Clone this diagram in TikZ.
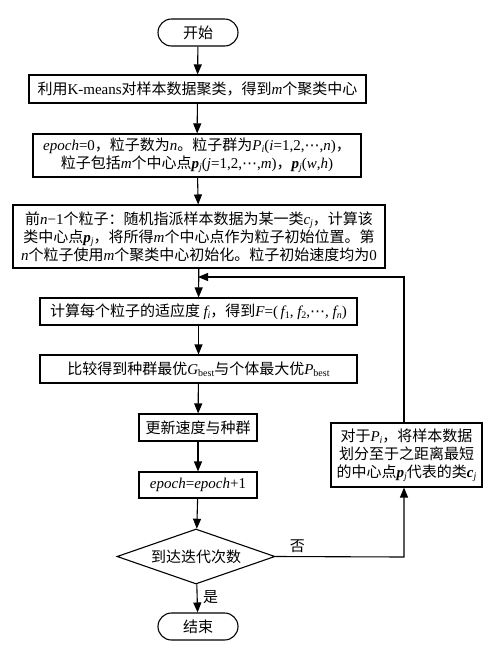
\documentclass[tikz,border=0pt]{standalone}
\usepackage{fontspec}
\setmainfont{Noto Sans CJK SC}
\newfontfamily\lt{Liberation Serif}
\newfontfamily\dv{DejaVu Sans}
\usetikzlibrary{shapes.geometric,arrows.meta}
\newcommand\vi[1]{{\lt\itshape #1}}
\newcommand\vb[1]{{\lt\bfseries\itshape #1}}
\newcommand\lr[1]{{\lt #1}}
\newcommand\cdt{{\dv ⋯}}
\newcommand\sbx[1]{\raisebox{-0.3ex}{\fontsize{10}{10}\selectfont #1}}
\tikzset{
  base/.style={draw, line width=1.1pt, inner sep=2pt, align=center,
    font=\fontsize{15}{18}\selectfont},
  procbox/.style={base, rectangle},
  termbox/.style={base, rectangle, rounded corners=13.5pt, minimum width=80pt, minimum height=27pt},
  decbox/.style={base, diamond, aspect=2.87, inner sep=0pt, minimum width=158pt, minimum height=55pt},
  flow/.style={line width=1.1pt, -{Triangle[length=10pt,width=8pt]}},
  lab/.style={font=\fontsize{15}{18}\selectfont}
}
\begin{document}
\begin{tikzpicture}[x=1pt,y=-1pt]
\useasboundingbox (0,0) rectangle (490,654);
\node[termbox] (start) at (198,32.5) {开始};
\node[procbox, minimum width=337pt, minimum height=28pt] (b1) at (197.5,89)
  {利用\lr{K-means}对样本数据聚类，得到\vi{m}个聚类中心};
\node[procbox, minimum width=328pt, minimum height=43pt] (b2) at (197,155.5)
  {\vi{epoch}\lr{=0}，粒子数为\vi{n}。粒子群为\vi{P}\sbx{\vi{i}}\lr{(}\vi{i}\lr{=1,2,}\cdt\lr{,}\vi{n}\lr{)}，\\
   粒子包括\vi{m}个中心点\vb{p}\sbx{\vi{j}}\lr{(}\vi{j}\lr{=1,2,}\cdt\lr{,}\vi{m}\lr{)}，\vb{p}\sbx{\vi{j}}\lr{(}\vi{w}\lr{,}\vi{h}\lr{)}};
\node[procbox, minimum width=372pt, minimum height=63pt] (b3) at (199,236.5)
  {前\vi{n}\lr{−1}个粒子：随机指派样本数据为某一类\vi{c}\sbx{\vi{j}}，计算该\\
   类中心点\vb{p}\sbx{\vi{j}}，将所得\vi{m}个中心点作为粒子初始位置。第\\
   \vi{n}个粒子使用\vi{m}个聚类中心初始化。粒子初始速度均为\lr{0}};
\node[procbox, minimum width=317pt, minimum height=27pt] (b4) at (198.5,311.5)
  {计算每个粒子的适应度 \vi{f}\sbx{\vi{i}}，得到\vi{F}\lr{=(\,}\vi{f}\sbx{\lr{1}}\lr{, }\vi{f}\sbx{\lr{2}}\lr{,}\cdt\lr{, }\vi{f}\sbx{\vi{n}}\lr{)}};
\node[procbox, minimum width=317pt, minimum height=28pt] (b5) at (198.5,369)
  {比较得到种群最优\vi{G}\sbx{\lr{best}}与个体最大优\vi{P}\sbx{\lr{best}}};
\node[procbox, minimum width=118pt, minimum height=27pt] (b6) at (198,427.5) {更新速度与种群};
\node[procbox, minimum width=118pt, minimum height=26pt] (b7) at (198,485) {\vi{epoch}\lr{=}\vi{epoch}\lr{+1}};
\node[decbox] (dec) at (196,556.5) {到达迭代次数};
\node[termbox] (end) at (198,626.5) {结束};
\node[procbox, minimum width=151pt, minimum height=64pt] (rb) at (406.5,455)
  {对于\vi{P}\sbx{\vi{i}}，将样本数据\\
   划分至于之距离最短\\
   的中心点\vb{p}\sbx{\vi{j}}代表的类\vb{c}\sbx{\vi{j}}};
\coordinate (join) at (198,277);
\coordinate (turn) at (404,557);
\draw[flow] (start) -- (b1);
\draw[flow] (b1) -- (b2);
\draw[flow] (b2) -- (b3);
\draw[flow] (b3) -- (b4);
\draw[flow] (b4) -- (b5);
\draw[flow] (b5) -- (b6);
\draw[flow] (b6) -- (b7);
\draw[flow] (b7) -- (dec);
\draw[flow] (dec) -- (end) node[lab, pos=0.45, right=2pt] {是};
\draw[flow] (dec.east) -- (turn) node[lab, pos=0.17, above=0pt] {否} -- (rb.south -| turn);
\draw[flow] (rb.north -| turn) |- (join);
\end{tikzpicture}
\end{document}
